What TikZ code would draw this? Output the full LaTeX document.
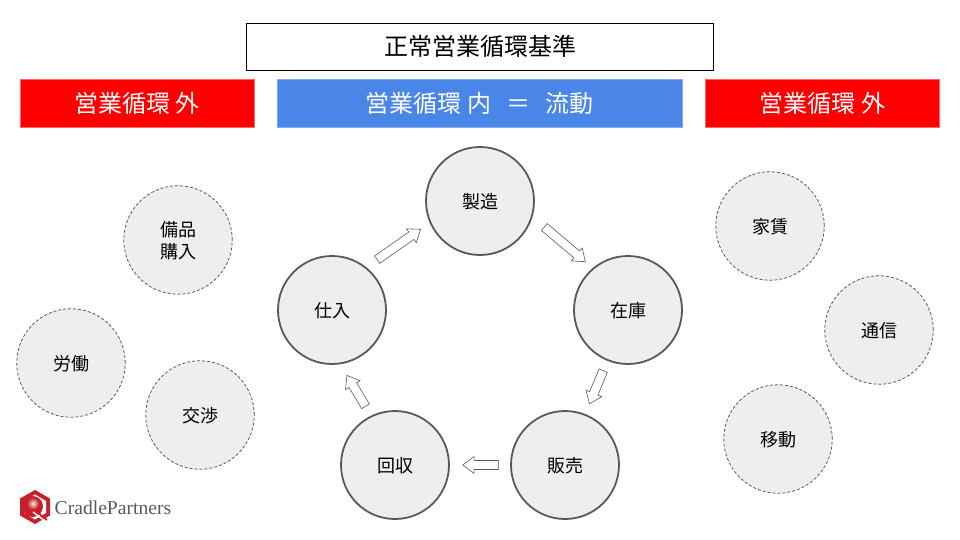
\documentclass[tikz,border=0pt]{standalone}
\usepackage{fontspec}
\setmainfont{Noto Sans CJK JP}
\newfontfamily\logofont{Liberation Serif}
\usetikzlibrary{shapes.arrows}
\definecolor{gcirc}{HTML}{EEEEEE}
\definecolor{gline}{HTML}{595959}
\definecolor{bluebar}{HTML}{4A86E8}
\definecolor{logored}{HTML}{C8202A}
\newcommand{\fs}[1]{\fontsize{#1}{#1}\selectfont}
\newcommand{\lb}[1]{\raisebox{-1pt}[\height][\depth]{#1}}
\tikzset{
 x=1pt,y=-1pt,
 solidc/.style={circle,draw=gline,line width=1.8pt,fill=gcirc,minimum size=108pt,inner sep=0pt,align=center,font=\fs{18}},
 dashc/.style={circle,draw=gline,line width=.8pt,dash pattern=on 3pt off 2pt,fill=gcirc,minimum size=108.5pt,inner sep=0pt,align=center,font=\fs{18}},
 bar/.style={minimum height=47.5pt,inner sep=0pt,font=\fs{24},text=white},
 blockarrow/.style={single arrow,anchor=tip,draw=gline,fill=white,line width=.6pt,minimum width=16.5pt,single arrow head extend=4pt,single arrow tip angle=74,inner xsep=0pt,inner ysep=4.2pt},
}
\begin{document}
\begin{tikzpicture}
\useasboundingbox (0,0) rectangle (960,540);
\node[draw=black,line width=.9pt,minimum width=467pt,minimum height=47pt,inner sep=0pt,font=\fs{24}] (title) at (480,46.5) {正常営業循環基準};
\node[bar,fill=red,draw=red!60!white,line width=.3pt,minimum width=234pt] (leftbar) at (137,103.2) {営業循環 外};
\node[bar,fill=bluebar,draw=bluebar!70!white,line width=.3pt,minimum width=405pt] (midbar) at (479.5,103.2) {営業循環 内\hspace{15pt}＝\hspace{15pt}流動};
\node[bar,fill=red,draw=red!60!white,line width=.3pt,minimum width=234pt] (rightbar) at (822.5,103.2) {営業循環 外};

\node[solidc] (make) at (480,201) {\lb{製造}};
\node[solidc] (stock) at (628,310) {\lb{在庫}};
\node[solidc] (sell) at (565,465) {\lb{販売}};
\node[solidc] (collect) at (395,465) {\lb{回収}};
\node[solidc] (buy) at (332,310) {\lb{仕入}};

\node[dashc] (equip) at (178,240) {\lb{備品}\\[4pt]\lb{購入}};
\node[dashc] (labor) at (71,363) {\lb{労働}};
\node[dashc] (nego) at (200,415) {\lb{交渉}};
\node[dashc] (rent) at (770,226) {\lb{家賃}};
\node[dashc] (comm) at (879,330) {\lb{通信}};
\node[dashc] (move) at (778,439) {\lb{移動}};

\node[blockarrow,minimum height=53pt,rotate=35] (a1) at (421,229) {};
\node[blockarrow,minimum height=53.7pt,rotate=-40.2] (a2) at (585.7,262) {};
\node[blockarrow,minimum height=36pt,rotate=-112.4] (a3) at (589.3,404.3) {};
\node[blockarrow,minimum height=35.4pt,rotate=180] (a4) at (462.3,465) {};
\node[blockarrow,minimum height=36pt,rotate=121] (a5) at (346.7,375) {};

% logo
\coordinate (logoc) at (35,507);
\fill[logored] (35,490) -- (50,498.5) -- (50,515.5) -- (35,524) -- (20,515.5) -- (20,498.5) -- cycle;
\fill[white] (35,494.5) -- (46,501) -- (46,513) -- (35,519.5) -- (24,513) -- (24,501) -- cycle;
\fill[logored] (32.5,506.5) circle (10.5);
\shade[inner color=white!90!logored,outer color=logored] (33,503.5) circle (6);
\draw[white,line width=1.4pt] (33,512) -- (45,521);
\draw[logored,line width=1.8pt] (36,511) -- (47,520);
\node[anchor=west,inner sep=0pt,text=gline,font=\logofont\fs{19.6}] (logotext) at (54.5,508) {CradlePartners};
\end{tikzpicture}
\end{document}
